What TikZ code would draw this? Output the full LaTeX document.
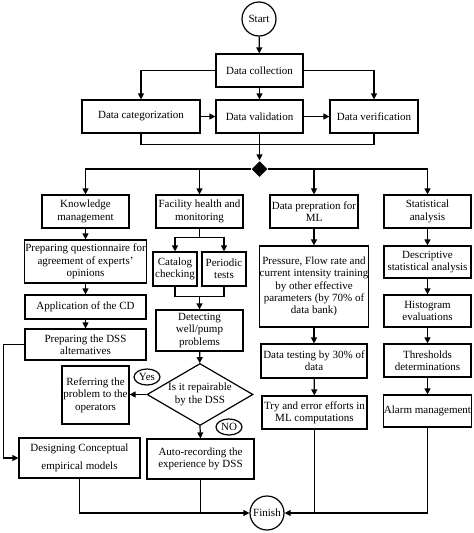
\documentclass[tikz,border=0pt]{standalone}
\usepackage{fontspec}
\setmainfont{Liberation Serif}
\usetikzlibrary{shapes.geometric,arrows.meta,calc}
\begin{document}
\begin{tikzpicture}[x=1pt,y=-1pt,
  every node/.style={font=\fontsize{11}{12.3}\selectfont},
  box/.style={draw,line width=1.2pt,align=center,inner sep=0.5pt},
  arr/.style={-{Triangle[length=6pt,width=6pt]}},
  every path/.style={line width=1.2pt}]
\useasboundingbox (0,0) rectangle (474,533);
% top
\node[draw,circle,minimum size=34pt,inner sep=0pt] (start) at (259,19) {Start};
\node[box,minimum width=87pt,minimum height=33pt] (dc) at (259.5,70.5) {Data collection};
\node[box,minimum width=118pt,minimum height=33pt] (cat) at (141,116.5) {Data categorization};
\node[box,minimum width=87pt,minimum height=33pt] (val) at (259.5,116.5) {Data validation};
\node[box,minimum width=88pt,minimum height=33pt] (ver) at (374,116.5) {Data verification};
\node[diamond,fill,minimum width=16pt,minimum height=16pt,inner sep=0pt] (hub) at (259.5,169) {};
% heads
\node[box,minimum width=87pt,minimum height=33pt] (km) at (85.5,211.5) {Knowledge\\management};
\node[box,minimum width=87pt,minimum height=33pt] (fh) at (199.5,211.5) {Facility health and\\monitoring};
\node[box,minimum width=88pt,minimum height=33pt] (ml) at (314,211.5) {Data prepration for\\ML};
\node[box,minimum width=87pt,minimum height=33pt] (sa) at (427.5,211.5) {Statistical\\analysis};
% left column
\node[box,minimum width=121pt,minimum height=43pt] (pq) at (85.5,261.5) {Preparing questionnaire for\\agreement of experts'\\opinions};
\node[box,minimum width=121pt,minimum height=24pt] (cd) at (85.5,307) {Application of the CD};
\node[box,minimum width=121pt,minimum height=31pt] (dss) at (85.5,344.5) {Preparing the DSS\\alternatives};
\node[box,minimum width=67pt,minimum height=58pt] (ref) at (95.5,395) {Referring the\\problem to the\\operators};
\node[box,minimum width=121pt,minimum height=40pt,font=\fontsize{11}{18}\selectfont] (dcm) at (79.5,458) {Designing Conceptual\\empirical models};
% facility column
\node[box,minimum width=44pt,minimum height=34pt] (cat2) at (175,269) {Catalog\\checking};
\node[box,minimum width=44pt,minimum height=34pt] (per) at (224,269) {Periodic\\tests};
\node[box,minimum width=87pt,minimum height=41pt] (det) at (199.5,330.5) {Detecting\\well/pump\\problems};
\node[draw,diamond,aspect=1.7,minimum width=106pt,minimum height=62pt,inner sep=0pt,align=center] (rep) at (200,394.5) {Is it repairable\\by the DSS};
\node[draw,ellipse,minimum width=26pt,minimum height=16pt,inner sep=0pt] (yes) at (147,377) {Yes};
\node[draw,ellipse,minimum width=26pt,minimum height=16pt,inner sep=0pt] (no) at (229,427) {NO};
\node[box,minimum width=107pt,minimum height=40pt] (auto) at (200.5,459) {Auto-recording the\\experience by DSS};
% ML column
\node[box,minimum width=106pt,minimum height=81pt] (pr) at (314,286.5) {Pressure, Flow rate and\\current intensity training\\by other effective\\parameters (by 70\% of\\data bank)};
\node[box,minimum width=106pt,minimum height=34pt] (dt) at (314,361) {Data testing by 30\% of\\data};
\node[box,minimum width=105pt,minimum height=33pt] (try) at (314.5,412.5) {Try and error efforts in\\ML computations};
% stats column
\node[box,minimum width=87pt,minimum height=32pt] (ds) at (427.5,262) {Descriptive\\statistical analysis};
\node[box,minimum width=87pt,minimum height=32pt] (he) at (427.5,311) {Histogram\\evaluations};
\node[box,minimum width=87pt,minimum height=33pt] (th) at (427.5,360.5) {Thresholds\\determinations};
\node[box,minimum width=87pt,minimum height=32pt] (al) at (427.5,411) {Alarm management};
% finish
\node[draw,circle,minimum size=34pt,inner sep=0pt] (fin) at (267,513) {Finish};
% connectors top
\draw[arr] (start) -- (dc);
\draw[arr] (dc.west) -| (cat.north);
\draw[arr] (dc) -- (val);
\draw[arr] (dc.east) -| (ver.north);
\draw[arr] (cat) -- (val);
\draw[arr] (val) -- (ver);
\draw (cat.south) -- ++(0,11) -| (ver.south);
\draw[arr] (val.south) -- (hub.north);
\draw[arr] (hub.west) -| (km.north);
\draw[arr] (hub.west) -| (fh.north);
\draw[arr] (hub.east) -| (ml.north);
\draw[arr] (hub.east) -| (sa.north);
% left column
\draw[arr] (km) -- (pq);
\draw[arr] (pq) -- (cd);
\draw[arr] (cd) -- (dss);
\draw[arr] (dss.west) -- ++(-21,0) |- (dcm.west);
\draw[arr] (dcm.south) |- (fin.west);
% facility
\draw (fh.south) -- ++(0,9) coordinate (fs);
\draw[arr] (fs) -| (cat2.north);
\draw[arr] (fs) -| (per.north);
\draw (cat2.south) -- ++(0,10) coordinate (cm) -| (per.south);
\draw[arr] (cm -| det.north) -- (det.north);
\draw[arr] (det) -- (rep);
\draw[arr] (rep.west) -- (rep.west -| ref.east);
\draw[arr] (rep.south) -- (auto.north);
\draw (auto.south) -- (auto.south |- fin.west);
% ML
\draw[arr] (ml) -- (pr);
\draw[arr] (pr) -- (dt);
\draw[arr] (dt) -- (try);
\draw (try.south) -- (try.south |- fin.east);
% stats
\draw[arr] (sa) -- (ds);
\draw[arr] (ds) -- (he);
\draw[arr] (he) -- (th);
\draw[arr] (th) -- (al);
\draw[arr] (al.south) |- (fin.east);
\end{tikzpicture}
\end{document}
